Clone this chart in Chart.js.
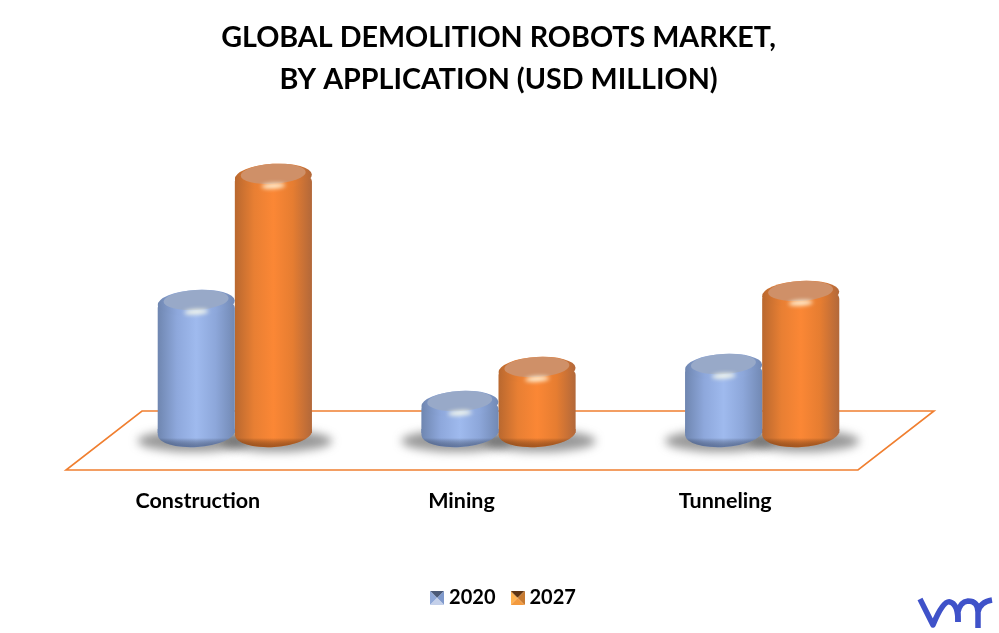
<!DOCTYPE html>
<html>
<head>
<meta charset="utf-8">
<title>Global Demolition Robots Market</title>
<script src="https://cdn.jsdelivr.net/npm/chart.js"></script>
<style>
  html, body { margin: 0; padding: 0; background: #fff; }
  #wrap { width: 999px; height: 633px; }
</style>
</head>
<body>
<div id="wrap"><canvas id="bar-chart"></canvas></div>
<script>
const categories = ['Construction', 'Mining', 'Tunneling'];
const years = ['2020', '2027'];
const values2020 = [130, 29, 66];
const values2027 = [256, 63, 139];
const titleLines = ['GLOBAL DEMOLITION ROBOTS MARKET,', 'BY APPLICATION (USD MILLION)'];

const FONT = 'Lato, "Open Sans", sans-serif';
const CATEGORY_PERCENT = 0.585;
const TILT = -0.06;

// side shading, rim and top colours of the two cylinders
const blue = {
    side: ['#6f86b0', '#8ea8dc', '#9fbaee', '#8da7da', '#7289b4'],
    top: '#98a9c8', dark: 'rgba(70,90,130,0.7)', legend: ['#4b5a78', '#8fa8d8', '#7f99cc', '#c4d0ea']
};
const orange = {
    side: ['#b9682f', '#e87f33', '#fb8735', '#e67d31', '#b2683a'],
    top: '#cf9068', dark: 'rgba(130,65,20,0.7)', legend: ['#5e3413', '#ffb24f', '#c77a30', '#f39a3e']
};
const palettes = [blue, orange];

function sideGradient(c, left, width, palette) {
    const g = c.createLinearGradient(left, 0, left + width, 0);
    palette.side.forEach((col, i) => g.addColorStop(i / (palette.side.length - 1), col));
    return g;
}

function barFill(ctx) {
    const chart = ctx.chart;
    const xs = chart.scales.x;
    const flat = palettes[ctx.datasetIndex].side[2];
    if (!xs || ctx.dataIndex === undefined) return flat;
    const w = xs.width / categories.length * CATEGORY_PERCENT / 2;
    const centre = xs.getPixelForValue(ctx.dataIndex);
    const left = ctx.datasetIndex === 0 ? centre - w : centre;
    if (!Number.isFinite(left) || !Number.isFinite(w)) return flat;
    return sideGradient(chart.ctx, left, w, palettes[ctx.datasetIndex]);
}

function legendIcon(cols) {
    const s = 14;
    const cv = document.createElement('canvas');
    cv.width = s;
    cv.height = s;
    const c = cv.getContext('2d');
    const tri = (col, x1, y1, x2, y2) => {
        c.fillStyle = col;
        c.beginPath();
        c.moveTo(x1, y1);
        c.lineTo(x2, y2);
        c.lineTo(s / 2, s / 2);
        c.closePath();
        c.fill();
    };
    tri(cols[0], 0, 0, s, 0);
    tri(cols[1], 0, 0, 0, s);
    tri(cols[2], s, 0, s, s);
    tri(cols[3], 0, s, s, s);
    return cv;
}

const floorPlugin = {
    id: 'floor',
    beforeDatasetsDraw(chart) {
        const c = chart.ctx;
        const a = chart.chartArea;
        const y0 = chart.scales.y.getPixelForValue(0);
        c.save();
        c.strokeStyle = '#f07f30';
        c.lineWidth = 1.6;
        c.beginPath();
        c.moveTo(a.left - 37, y0 + 37);
        c.lineTo(a.right - 36, y0 + 37);
        c.lineTo(a.right + 40, y0 - 22);
        c.lineTo(a.left + 39, y0 - 22);
        c.closePath();
        c.stroke();
        // soft shadow under each bar
        c.filter = 'blur(5px)';
        c.fillStyle = 'rgba(90,90,90,0.62)';
        chart.data.datasets.forEach((d, i) => {
            chart.getDatasetMeta(i).data.forEach(bar => {
                c.beginPath();
                c.ellipse(bar.x + (i === 0 ? -3 : 3), y0 + 8, bar.width * 0.72, 11, 0, 0, Math.PI * 2);
                c.fill();
            });
        });
        c.restore();
    }
};

const cylinderPlugin = {
    id: 'cylinder',
    beforeDatasetDraw(chart, args) {
        const c = chart.ctx;
        const palette = palettes[args.index];
        args.meta.data.forEach(bar => {
            const left = bar.x - bar.width / 2;
            const rx = bar.width / 2;
            c.save();
            c.translate(bar.x, bar.base);
            c.rotate(TILT);
            c.beginPath();
            c.ellipse(0, 0, rx, 14, 0, 0, Math.PI);
            c.restore();
            // run the cap up behind the bar so the tilt leaves no gap
            c.lineTo(left, bar.base - 4);
            c.lineTo(left + bar.width, bar.base - 4);
            c.closePath();
            c.fillStyle = sideGradient(c, left, bar.width, palette);
            c.fill();
            const g = c.createLinearGradient(0, bar.base + 5, 0, bar.base + 15);
            g.addColorStop(0, 'rgba(0,0,0,0)');
            g.addColorStop(1, palette.dark);
            c.fillStyle = g;
            c.fill();
        });
    },
    afterDatasetDraw(chart, args) {
        const c = chart.ctx;
        const palette = palettes[args.index];
        args.meta.data.forEach(bar => {
            const rx = bar.width / 2;
            c.save();
            c.translate(bar.x, bar.y);
            c.rotate(TILT);
            // rim
            c.beginPath();
            c.ellipse(0, 0, rx, 13, 0, 0, Math.PI * 2);
            c.fillStyle = sideGradient(c, -rx, bar.width, palette);
            c.fill();
            // flat lid
            c.beginPath();
            c.ellipse(0, -3, rx - 6, 10, 0, 0, Math.PI * 2);
            c.fillStyle = palette.top;
            c.fill();
            c.restore();
            // highlight below the lid
            c.save();
            c.filter = 'blur(2px)';
            c.beginPath();
            c.ellipse(bar.x, bar.y + 9, 12, 2.6, TILT, 0, Math.PI * 2);
            c.fillStyle = 'rgba(255,255,235,0.9)';
            c.fill();
            c.restore();
        });
    }
};

const logoPlugin = {
    id: 'logo',
    afterDraw(chart) {
        const c = chart.ctx;
        c.save();
        c.strokeStyle = '#3f52c9';
        c.lineWidth = 5.5;
        c.lineCap = 'butt';
        c.lineJoin = 'round';
        c.beginPath();
        c.moveTo(920, 599);
        c.lineTo(933, 625);
        c.quadraticCurveTo(943, 600, 950, 602);
        c.quadraticCurveTo(958, 604, 958, 622);
        c.stroke();
        c.beginPath();
        c.moveTo(958, 622);
        c.lineTo(958, 612);
        c.quadraticCurveTo(960, 602, 968, 601);
        c.quadraticCurveTo(978, 601, 978, 612);
        c.lineTo(978, 628);
        c.moveTo(978, 612);
        c.quadraticCurveTo(980, 602, 992, 600);
        c.stroke();
        c.restore();
    }
};

// legend sits a little right of the chart centre
const legendShift = {
    id: 'legendShift',
    afterLayout(chart) {
        chart.legend.left += 7;
        chart.legend.right += 7;
    }
};

new Chart(document.getElementById('bar-chart'), {
    type: 'bar',
    data: {
        labels: categories,
        datasets: [
            { label: years[0], data: values2020, backgroundColor: barFill,
              borderRadius: { topLeft: 5, topRight: 5 }, borderSkipped: false },
            { label: years[1], data: values2027, backgroundColor: barFill,
              borderRadius: { topLeft: 5, topRight: 5 }, borderSkipped: false }
        ]
    },
    plugins: [floorPlugin, cylinderPlugin, logoPlugin, legendShift],
    options: {
        responsive: true,
        maintainAspectRatio: false,
        animation: false,
        categoryPercentage: CATEGORY_PERCENT,
        barPercentage: 1,
        layout: { padding: { left: 103, right: 105, top: 0, bottom: 15 } },
        scales: {
            x: {
                grid: { display: false },
                border: { display: false },
                afterFit: scale => { scale.height = 135; },
                ticks: {
                    color: '#000',
                    padding: 47,
                    labelOffset: -37,
                    maxRotation: 0,
                    font: { family: FONT, weight: 'bold', size: 21.5 }
                }
            },
            y: { display: false, min: 0, max: 300 }
        },
        plugins: {
            tooltip: { enabled: false },
            title: {
                display: true,
                text: titleLines,
                color: '#000',
                font: { family: FONT, weight: 'bold', size: 28.7, lineHeight: 1.46 },
                padding: { top: 17, bottom: 32 }
            },
            legend: {
                position: 'bottom',
                labels: {
                    color: '#000',
                    usePointStyle: true,
                    pointStyleWidth: 4,
                    padding: 20,
                    font: { family: FONT, weight: 'bold', size: 20 },
                    generateLabels(chart) {
                        return Chart.defaults.plugins.legend.labels.generateLabels(chart).map(item => {
                            item.pointStyle = legendIcon(palettes[item.datasetIndex].legend);
                            return item;
                        });
                    }
                }
            }
        }
    }
});
</script>
</body>
</html>
